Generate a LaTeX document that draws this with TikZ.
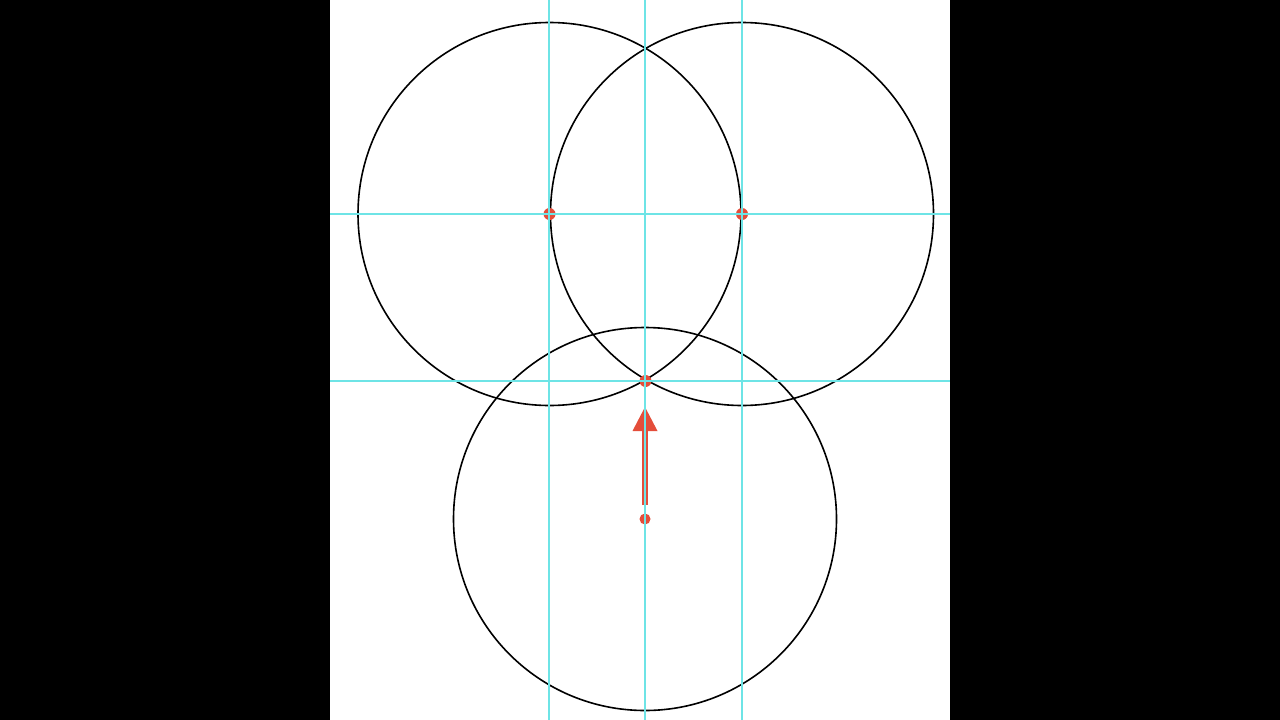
\documentclass[tikz,border=0pt]{standalone}
\usepackage{tikz}
\usetikzlibrary{calc}
\definecolor{guidecyan}{RGB}{110,228,230}
\definecolor{dotred}{RGB}{228,77,58}
\begin{document}
\begin{tikzpicture}[x=1pt,y=1pt,yscale=-1,xscale=1]
\useasboundingbox (0,0) rectangle (1280,720);
%Shape: Background
\fill [black] (0,0) rectangle (1280,720);
\fill [white] (330,0) rectangle (950,720);

% Centres
\coordinate (cL) at (549.5,214);
\coordinate (cR) at (742,214);
\coordinate (cB) at (645,519);
\coordinate (pX) at (645.5,381);
\coordinate (aS) at (645,505);
\coordinate (aT) at (645,407);

%Shape: Circles
\draw [line width=1.6] (cL) circle [radius=191.5];
\draw [line width=1.6] (cR) circle [radius=191.5];
\draw [line width=1.6] (cB) circle [radius=191.5];

%Shape: Red points
\fill [dotred] (cL) circle [radius=6];
\fill [dotred] (cR) circle [radius=6];
\fill [dotred] (pX) circle [radius=6];
\fill [dotred] (cB) circle [radius=5.5];

%Straight Lines: arrow
\draw [dotred, line width=6.5] (aS) -- ($(aT)+(0,22)$);
\fill [dotred] (aT) -- ($(aT)+(12.5,24)$) -- ($(aT)+(-12.5,24)$) -- cycle;

%Straight Lines: guides
\draw [guidecyan, line width=1.4] (549,0) -- (549,720) (645,0) -- (645,720) (742,0) -- (742,720);
\draw [guidecyan, line width=1.4] (330,214) -- (950,214) (330,381) -- (950,381);

\end{tikzpicture}
\end{document}
